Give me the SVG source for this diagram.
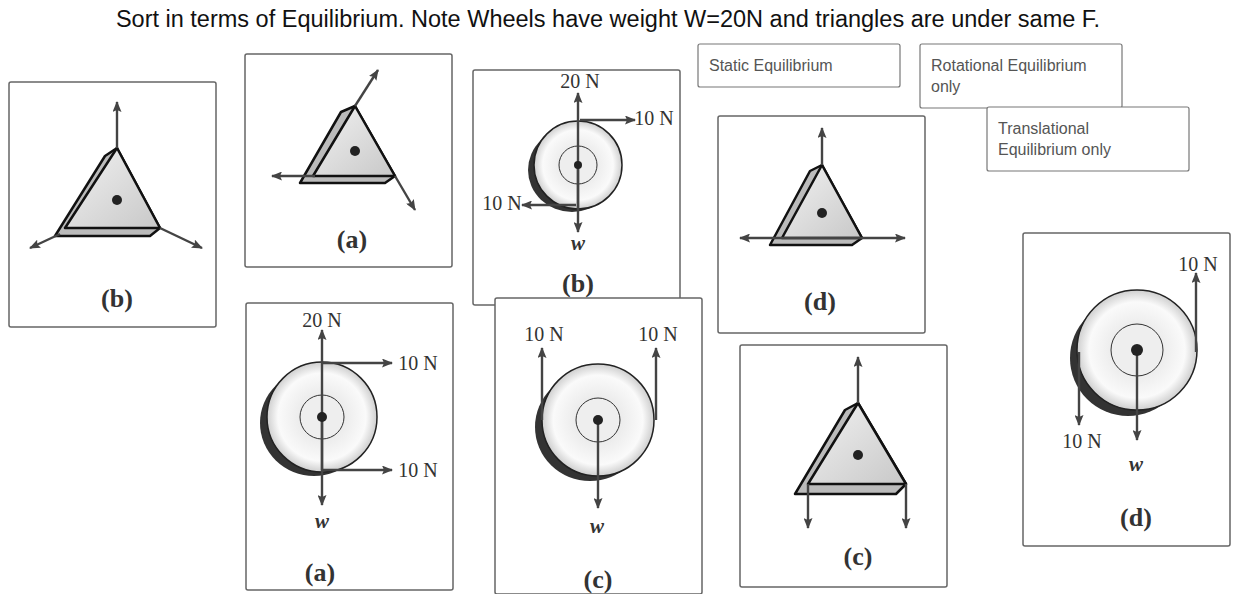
<svg xmlns="http://www.w3.org/2000/svg" width="1239" height="594" viewBox="0 0 1239 594">
<style>
.card{fill:#fff;stroke:#666;stroke-width:1.5}
.lbl{fill:#fff;stroke:#777;stroke-width:1.2}
.lt{font-family:"Liberation Sans",Arial,sans-serif;font-size:16px;fill:#555}
.f{stroke:#444;stroke-width:2.4;fill:none;marker-end:url(#ah)}
.n{font-family:"Liberation Serif","Times New Roman",serif;font-size:20px;fill:#333;text-anchor:middle}
.cap{font-family:"Liberation Serif","Times New Roman",serif;font-size:26px;font-weight:bold;fill:#333;text-anchor:middle}
.w{font-family:"Liberation Serif",serif;font-size:21px;font-style:italic;font-weight:bold;fill:#333;text-anchor:middle}
.tri{fill:url(#tg);stroke:#111;stroke-width:2.5;stroke-linejoin:round}
.sh{fill:#bbb;stroke:#111;stroke-width:2.5;stroke-linejoin:round}
</style>
<defs>
<marker id="ah" markerWidth="11" markerHeight="9" refX="10" refY="4.5" orient="auto" markerUnits="userSpaceOnUse"><path d="M0,0 L11,4.5 L0,9 L2,4.5 z" fill="#444"/></marker>
<linearGradient id="tg" x1="0" y1="0" x2="1" y2="1"><stop offset="0" stop-color="#f2f2f2"/><stop offset="1" stop-color="#c8c8c8"/></linearGradient>
<radialGradient id="wg" cx="0.5" cy="0.5" r="0.5"><stop offset="0.3" stop-color="#e8e8e8"/><stop offset="0.8" stop-color="#fafafa"/><stop offset="1" stop-color="#cfcfcf"/></radialGradient>
</defs>
<text x="608" y="27" font-family="Liberation Sans,Arial,sans-serif" font-size="23.5" text-anchor="middle" fill="#111">Sort in terms of Equilibrium. Note Wheels have weight W=20N and triangles are under same F.</text>

<g id="tri-b">
<rect class="card" x="9" y="82" width="207" height="245" rx="2"/>
<path class="sh" d="M105,156 L117,148 L160,228 L150,236 L55,236 Z"/>
<path class="tri" d="M117,148 L160,228 L65,228 Z" stroke-width="1"/>
<line class="f" x1="117" y1="148" x2="117" y2="102"/>
<line class="f" x1="60" y1="234" x2="30" y2="248"/>
<line class="f" x1="160" y1="228" x2="202" y2="248"/>
<circle cx="117" cy="200" r="5" fill="#222"/>
<text class="cap" x="117" y="307">(b)</text>
</g>

<g id="tri-a">
<rect class="card" x="245" y="54" width="207" height="213" rx="2"/>
<path class="sh" d="M341,112 L355,106 L395,176 L385,183 L300,183 Z"/>
<path class="tri" d="M355,106 L395,176 L313,176 Z" stroke-width="1"/>
<line class="f" x1="355" y1="106" x2="378" y2="70"/>
<line class="f" x1="315" y1="176" x2="272" y2="176"/>
<line class="f" x1="395" y1="176" x2="415" y2="210"/>
<circle cx="355" cy="151" r="5" fill="#222"/>
<text class="cap" x="352" y="248" font-size="22">(a)</text>
</g>

<g id="wheel-b">
<rect class="card" x="473" y="70" width="207" height="235" rx="2"/>
<ellipse cx="572" cy="170" rx="44" ry="42" fill="#333"/>
<circle cx="578" cy="165" r="44" fill="url(#wg)" stroke="#222" stroke-width="1.5"/>
<circle cx="578" cy="165" r="19" fill="#eee" stroke="#333"/>
<line class="f" x1="578" y1="210" x2="578" y2="93"/>
<line class="f" x1="580" y1="120" x2="635" y2="120"/>
<line class="f" x1="576" y1="205" x2="522" y2="205"/>
<line class="f" x1="578" y1="165" x2="578" y2="232"/>
<circle cx="578" cy="165" r="4" fill="#222"/>
<text class="n" x="580" y="88" font-size="15">20 N</text>
<text class="n" x="654" y="125" font-size="15">10 N</text>
<text class="n" x="502" y="210" font-size="15">10 N</text>
<text class="w" x="578" y="250" font-size="16">w</text>
<text class="cap" x="578" y="292" font-size="20">(b)</text>
</g>

<g id="wheel-a">
<rect class="card" x="246" y="303" width="207" height="287" rx="2"/>
<ellipse cx="314" cy="423" rx="54" ry="53" fill="#333"/>
<circle cx="322" cy="417" r="55" fill="url(#wg)" stroke="#222" stroke-width="1.5"/>
<circle cx="322" cy="417" r="22" fill="#eee" stroke="#333"/>
<line class="f" x1="322" y1="470" x2="322" y2="330"/>
<line class="f" x1="322" y1="363" x2="392" y2="363"/>
<line class="f" x1="322" y1="470" x2="392" y2="470"/>
<line class="f" x1="322" y1="417" x2="322" y2="505"/>
<circle cx="322" cy="417" r="5" fill="#222"/>
<text class="n" x="322" y="327">20 N</text>
<text class="n" x="418" y="370">10 N</text>
<text class="n" x="418" y="477">10 N</text>
<text class="w" x="322" y="528">w</text>
<text class="cap" x="320" y="581">(a)</text>
</g>

<g id="wheel-c">
<rect class="card" x="495" y="298" width="207" height="296" rx="2"/>
<ellipse cx="590" cy="427" rx="55" ry="54" fill="#333"/>
<circle cx="598" cy="420" r="56" fill="url(#wg)" stroke="#222" stroke-width="1.5"/>
<circle cx="598" cy="420" r="22" fill="#eee" stroke="#333"/>
<line class="f" x1="542" y1="420" x2="542" y2="348"/>
<line class="f" x1="656" y1="420" x2="656" y2="348"/>
<line class="f" x1="598" y1="420" x2="598" y2="508"/>
<circle cx="598" cy="420" r="5" fill="#222"/>
<text class="n" x="544" y="341">10 N</text>
<text class="n" x="658" y="341">10 N</text>
<text class="w" x="597" y="533">w</text>
<text class="cap" x="598" y="588">(c)</text>
</g>

<g id="tri-d">
<rect class="card" x="718" y="116" width="207" height="217" rx="2"/>
<path class="sh" d="M810,171 L822,165 L862,238 L852,245 L770,245 Z"/>
<path class="tri" d="M822,165 L862,238 L782,238 Z" stroke-width="1"/>
<line class="f" x1="822" y1="165" x2="822" y2="128"/>
<line class="f" x1="822" y1="238" x2="740" y2="238"/>
<line class="f" x1="822" y1="238" x2="905" y2="238"/>
<circle cx="822" cy="213" r="5" fill="#222"/>
<text class="cap" x="820" y="310">(d)</text>
</g>

<g id="tri-c">
<rect class="card" x="740" y="345" width="207" height="242" rx="2"/>
<path class="sh" d="M845,410 L858,403 L906,484 L896,494 L795,494 Z"/>
<path class="tri" d="M858,403 L906,484 L808,484 Z" stroke-width="1"/>
<line class="f" x1="858" y1="403" x2="858" y2="357"/>
<line class="f" x1="808" y1="484" x2="808" y2="528"/>
<line class="f" x1="906" y1="484" x2="906" y2="528"/>
<circle cx="858" cy="455" r="5" fill="#222"/>
<text class="cap" x="858" y="565">(c)</text>
</g>

<g id="wheel-d">
<rect class="card" x="1023" y="233" width="207" height="313" rx="2"/>
<ellipse cx="1128" cy="358" rx="58" ry="58" fill="#333"/>
<circle cx="1137" cy="350" r="60" fill="url(#wg)" stroke="#222" stroke-width="1.5"/>
<circle cx="1137" cy="350" r="26" fill="#eee" stroke="#333"/>
<line class="f" x1="1196" y1="352" x2="1196" y2="273"/>
<line class="f" x1="1079" y1="352" x2="1079" y2="425"/>
<line class="f" x1="1137" y1="350" x2="1137" y2="440"/>
<circle cx="1137" cy="350" r="6" fill="#222"/>
<text class="n" x="1198" y="271">10 N</text>
<text class="n" x="1082" y="448">10 N</text>
<text class="w" x="1136" y="471">w</text>
<text class="cap" x="1136" y="526">(d)</text>
</g>

<g id="static">
<rect class="lbl" x="698" y="44" width="202" height="43" rx="2"/>
<text class="lt" x="709" y="71">Static Equilibrium</text>
</g>
<g id="rotational">
<rect class="lbl" x="920" y="44" width="202" height="64" rx="2"/>
<text class="lt" x="931" y="71">Rotational Equilibrium</text>
<text class="lt" x="931" y="92">only</text>
</g>
<g id="translational">
<rect class="lbl" x="987" y="107" width="202" height="64" rx="2"/>
<text class="lt" x="998" y="134">Translational</text>
<text class="lt" x="998" y="155">Equilibrium only</text>
</g>
</svg>
